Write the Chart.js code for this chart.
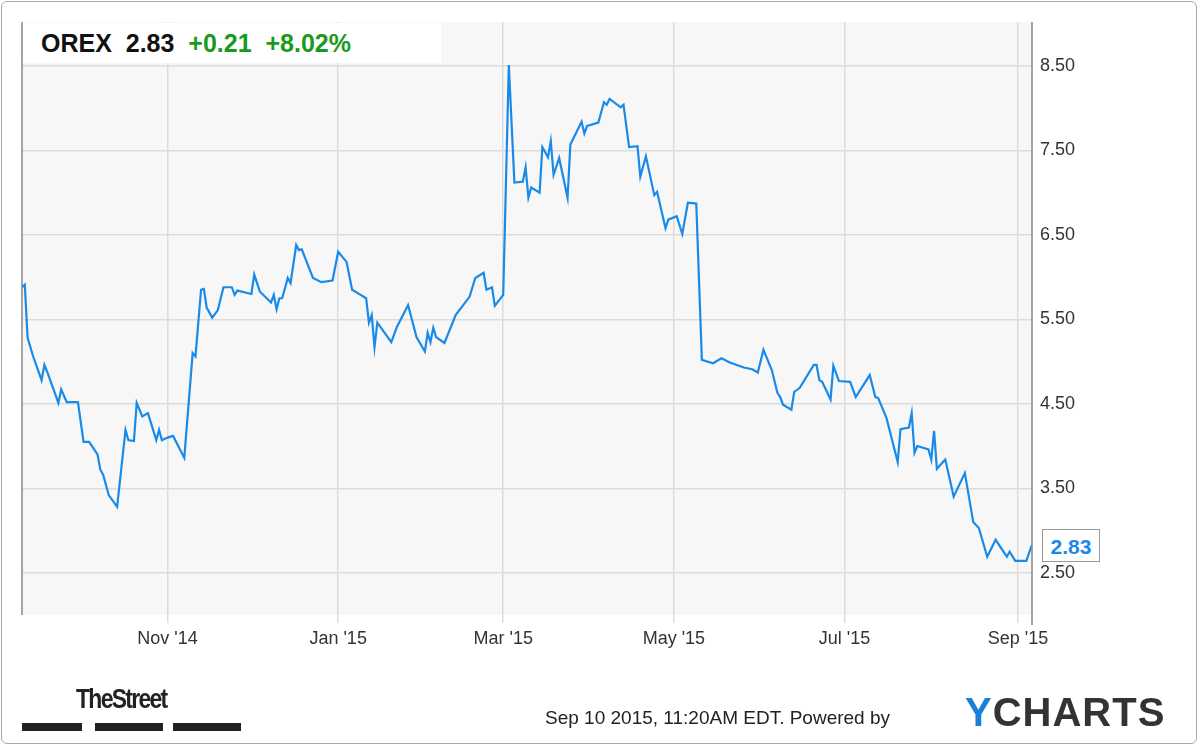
<!DOCTYPE html>
<html><head><meta charset="utf-8">
<script src="https://cdn.jsdelivr.net/npm/chart.js@4"></script>
<style>
html,body{margin:0;padding:0;background:#fff;font-family:"Liberation Sans",Arial,sans-serif;}
#wrap{position:relative;width:1200px;height:747px;overflow:hidden;}
#frame{position:absolute;left:1px;top:1px;width:1196px;height:743px;border:1px solid #aaa;border-radius:6px;box-sizing:border-box;pointer-events:none;}
canvas{position:absolute;left:0;top:0;}
#hdr{position:absolute;left:23px;top:23px;width:418px;height:40px;background:#fff;font-weight:bold;font-size:25px;line-height:40px;padding-left:18px;box-sizing:border-box;white-space:pre;}
#last{position:absolute;left:1042px;top:529px;width:58px;height:33px;border:1px solid #999;background:#fff;color:#1a8ae8;font-weight:bold;font-size:21px;line-height:33px;text-align:center;box-sizing:border-box;}
.t{position:absolute;white-space:nowrap;}
</style></head><body>
<div id="wrap">
<canvas id="c" width="1200" height="747"></canvas>
<div id="hdr"><span style="color:#111">OREX  2.83  </span><span style="color:#1a9a1a">+0.21  +8.02%</span></div>
<div id="last">2.83</div>
<div class="t" style="left:76px;top:684px;font-size:27px;font-weight:bold;letter-spacing:-2px;color:#222;transform:scaleX(0.85);transform-origin:left;">TheStreet</div>
<div style="position:absolute;left:22px;top:723px;width:60px;height:8px;background:#222"></div>
<div style="position:absolute;left:95px;top:723px;width:68px;height:8px;background:#222"></div>
<div style="position:absolute;left:173px;top:723px;width:68px;height:8px;background:#222"></div>
<div class="t" style="left:545px;top:707px;font-size:19px;color:#222;">Sep 10 2015, 11:20AM EDT.  Powered by</div>
<div class="t" style="left:965px;top:690px;font-size:40px;font-weight:bold;color:#333;letter-spacing:1px;"><span style="color:#1a7fd6">Y</span>CHARTS</div>
<div id="frame"></div>
</div>
<script>
const days=[0,1,2,4,7,8,9,13,14,16,20,22,24,27,28,29,31,34,37,38,40,41,43,45,48,49,50,52,54,58,61,62,64,65,66,68,70,72,75,76,77,82,83,85,89,90,91,92,93,95,96,98,99,100,104,107,111,113,116,118,121,123,124,125,126,127,132,134,138,141,144,145,146,147,148,151,155,160,162,165,166,168,169,172,174,176,179,180,181,182,185,186,188,189,190,192,195,196,200,201,202,206,208,209,210,214,215,217,220,221,223,226,227,230,231,234,236,238,241,243,247,250,253,258,261,263,265,268,270,271,272,275,276,278,283,284,285,286,289,290,292,296,298,303,305,306,309,313,314,317,318,319,320,324,325,326,327,330,332,333,337,340,342,345,348,352,353,355,359,360,361];
const prices=[5.88,5.91,5.28,5.06,4.78,4.96,4.88,4.51,4.67,4.52,4.52,4.05,4.05,3.90,3.72,3.66,3.42,3.28,4.19,4.07,4.06,4.51,4.35,4.39,4.07,4.19,4.07,4.10,4.12,3.86,5.10,5.06,5.85,5.86,5.64,5.52,5.61,5.88,5.88,5.79,5.84,5.80,6.03,5.83,5.70,5.79,5.62,5.75,5.75,5.99,5.93,6.38,6.32,6.33,5.99,5.94,5.96,6.30,6.18,5.85,5.79,5.75,5.46,5.55,5.17,5.46,5.23,5.41,5.67,5.29,5.12,5.34,5.23,5.40,5.29,5.22,5.55,5.77,5.99,6.05,5.85,5.88,5.66,5.79,8.51,7.12,7.13,7.30,6.94,7.06,7.00,7.54,7.42,7.61,7.21,7.41,6.94,7.57,7.84,7.70,7.79,7.83,8.07,8.04,8.11,8.01,8.04,7.54,7.55,7.19,7.43,6.97,7.01,6.58,6.68,6.72,6.51,6.88,6.87,5.02,4.98,5.04,4.99,4.93,4.91,4.87,5.14,4.90,4.63,4.58,4.49,4.43,4.64,4.69,4.96,4.96,4.78,4.76,4.55,4.95,4.77,4.76,4.58,4.84,4.58,4.57,4.33,3.81,4.20,4.22,4.39,3.92,4.00,3.96,3.84,4.18,3.73,3.84,3.55,3.40,3.68,3.10,3.03,2.69,2.89,2.69,2.75,2.64,2.64,2.74,2.83];
const monthTicks=[52,113,172,233,294,356];
const monthLabels=["Nov '14","Jan '15","Mar '15","May '15","Jul '15","Sep '15"];
const yTicks=[2.5,3.5,4.5,5.5,6.5,7.5,8.5];

const bg={id:'bg',beforeDraw(ch){const a=ch.chartArea,c=ch.ctx;c.save();c.fillStyle='#f7f7f7';c.fillRect(a.left,a.top,a.right-a.left,a.bottom-a.top);c.restore();},
afterDraw(ch){const a=ch.chartArea,c=ch.ctx;c.save();c.strokeStyle='#888';c.lineWidth=1.5;c.beginPath();c.moveTo(a.left,a.top);c.lineTo(a.left,a.bottom);c.moveTo(a.right,a.top);c.lineTo(a.right,a.bottom+10);c.stroke();c.restore();}};

new Chart(document.getElementById('c'),{
type:'line',
data:{datasets:[{data:days.map((d,i)=>({x:d,y:prices[i]})),borderColor:'#1a8ae8',borderWidth:2.2,pointRadius:0,tension:0}]},
options:{responsive:false,animation:false,
layout:{padding:{left:22,top:22,right:98,bottom:92}},
plugins:{legend:{display:false},tooltip:{enabled:false}},
scales:{
x:{type:'linear',min:0,max:361,
afterBuildTicks(s){s.ticks=monthTicks.map(v=>({value:v}));},
afterFit(s){s.height=40;},
ticks:{autoSkip:false,maxRotation:0,padding:5,color:'#333',font:{size:18,family:'Liberation Sans'},callback:(v)=>monthLabels[monthTicks.indexOf(v)]},
grid:{color:'#dcdcdc',lineWidth:1.5,tickLength:8},border:{display:false}},
y:{position:'right',min:2.0,max:9.02,
afterBuildTicks(s){s.ticks=yTicks.map(v=>({value:v}));},
afterFit(s){s.width=70;},
ticks:{padding:8,color:'#333',font:{size:18,family:'Liberation Sans'},callback:v=>v.toFixed(2)},
grid:{color:'#dcdcdc',lineWidth:1.5,drawTicks:false},border:{display:false}}
}},
plugins:[bg]
});
</script>
</body></html>
